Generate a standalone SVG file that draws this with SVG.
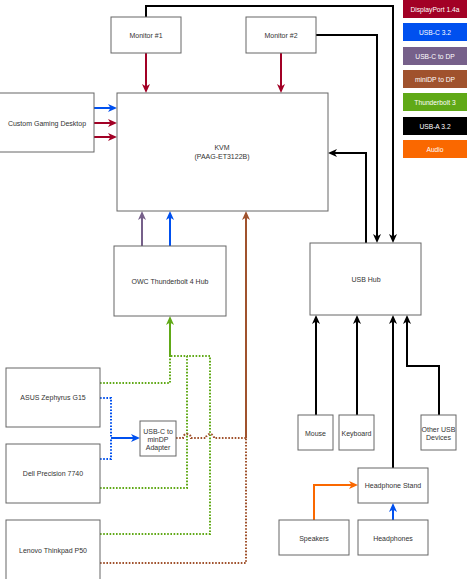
<svg xmlns="http://www.w3.org/2000/svg" width="474" height="579" viewBox="0 0 474 579">
<style>
.box{fill:#fff;stroke:#666;stroke-width:1}
.t{font-family:"Liberation Sans",Arial,sans-serif;font-size:7px;fill:#333;text-anchor:middle;dominant-baseline:central}
.lg{font-family:"Liberation Sans",Arial,sans-serif;font-size:6.7px;fill:#fff;text-anchor:middle;dominant-baseline:central}
.e{fill:none;stroke-width:2}
.d{stroke-dasharray:1.6 1.6}
</style>
<defs>
<marker id="aR" markerUnits="userSpaceOnUse" markerWidth="10" markerHeight="9" refX="6" refY="4.5" orient="auto"><path d="M0,0.5 L9,4.5 L0,8.5 L2.5,4.5 Z" fill="#A20025"/></marker>
<marker id="aB" markerUnits="userSpaceOnUse" markerWidth="10" markerHeight="9" refX="6" refY="4.5" orient="auto"><path d="M0,0.5 L9,4.5 L0,8.5 L2.5,4.5 Z" fill="#0050EF"/></marker>
<marker id="aP" markerUnits="userSpaceOnUse" markerWidth="10" markerHeight="9" refX="6" refY="4.5" orient="auto"><path d="M0,0.5 L9,4.5 L0,8.5 L2.5,4.5 Z" fill="#76608A"/></marker>
<marker id="aN" markerUnits="userSpaceOnUse" markerWidth="10" markerHeight="9" refX="6" refY="4.5" orient="auto"><path d="M0,0.5 L9,4.5 L0,8.5 L2.5,4.5 Z" fill="#A0522D"/></marker>
<marker id="aG" markerUnits="userSpaceOnUse" markerWidth="10" markerHeight="9" refX="6" refY="4.5" orient="auto"><path d="M0,0.5 L9,4.5 L0,8.5 L2.5,4.5 Z" fill="#60A917"/></marker>
<marker id="aK" markerUnits="userSpaceOnUse" markerWidth="10" markerHeight="9" refX="6" refY="4.5" orient="auto"><path d="M0,0.5 L9,4.5 L0,8.5 L2.5,4.5 Z" fill="#000"/></marker>
<marker id="aO" markerUnits="userSpaceOnUse" markerWidth="10" markerHeight="9" refX="6" refY="4.5" orient="auto"><path d="M0,0.5 L9,4.5 L0,8.5 L2.5,4.5 Z" fill="#FA6800"/></marker>
</defs>

<g id="legend">
<rect x="403" y="0" width="64" height="18" fill="#A20025"/><text class="lg" x="435" y="9">DisplayPort 1.4a</text>
<rect x="403" y="23" width="64" height="18" fill="#0050EF"/><text class="lg" x="435" y="32">USB-C 3.2</text>
<rect x="403" y="47" width="64" height="18" fill="#76608A"/><text class="lg" x="435" y="56">USB-C to DP</text>
<rect x="403" y="70" width="64" height="18" fill="#A0522D"/><text class="lg" x="435" y="79">miniDP to DP</text>
<rect x="403" y="93" width="64" height="18" fill="#60A917"/><text class="lg" x="435" y="102">Thunderbolt 3</text>
<rect x="403" y="117" width="64" height="18" fill="#000"/><text class="lg" x="435" y="126">USB-A 3.2</text>
<rect x="403" y="140" width="64" height="18" fill="#FA6800"/><text class="lg" x="435" y="149">Audio</text>
</g>

<g id="connectors">
<path class="e" stroke="#A20025" d="M146,53 V90" marker-end="url(#aR)"/>
<path class="e" stroke="#A20025" d="M281,53 V90" marker-end="url(#aR)"/>
<path class="e" stroke="#0050EF" d="M94,108 H114" marker-end="url(#aB)"/>
<path class="e" stroke="#A20025" d="M94,123 H114" marker-end="url(#aR)"/>
<path class="e" stroke="#A20025" d="M94,137 H114" marker-end="url(#aR)"/>
<path class="e" stroke="#000" d="M146,17 V6 H393 V240" marker-end="url(#aK)"/>
<path class="e" stroke="#000" d="M316,35 H377 V240" marker-end="url(#aK)"/>
<path class="e" stroke="#000" d="M366,243 V153 H331" marker-end="url(#aK)"/>
<path class="e" stroke="#76608A" d="M142,246 V214" marker-end="url(#aP)"/>
<path class="e" stroke="#0050EF" d="M170,246 V214" marker-end="url(#aB)"/>
<path class="e" stroke="#60A917" d="M170,356 V319" marker-end="url(#aG)"/>
<path class="e d" stroke="#60A917" d="M100,383 H170 V356"/>
<path class="e d" stroke="#60A917" d="M100,488 H187 V356 H170"/>
<path class="e d" stroke="#60A917" d="M100,534 H210 V356 H187"/>
<path class="e d" stroke="#0050EF" d="M100,398 H111 V438"/>
<path class="e d" stroke="#0050EF" d="M100,459 H111 V438"/>
<path class="e" stroke="#0050EF" d="M111,438 H137" marker-end="url(#aB)"/>
<path class="e d" stroke="#A0522D" d="M176,438 H183 a4,4 0 0 1 8,0 H206 a4,4 0 0 1 8,0 H246"/>
<path class="e d" stroke="#A0522D" d="M100,563 H246 V438"/>
<path class="e" stroke="#A0522D" d="M246,438 V214" marker-end="url(#aN)"/>
<path class="e" stroke="#000" d="M316,415 V318" marker-end="url(#aK)"/>
<path class="e" stroke="#000" d="M357,415 V318" marker-end="url(#aK)"/>
<path class="e" stroke="#000" d="M393,468 V318" marker-end="url(#aK)"/>
<path class="e" stroke="#000" d="M439,415 V366 H407 V318" marker-end="url(#aK)"/>
<path class="e" stroke="#FA6800" d="M314,520 V485 H355" marker-end="url(#aO)"/>
<path class="e" stroke="#0050EF" d="M393,520 V506" marker-end="url(#aB)"/>
</g>

<g id="monitor1"><rect class="box" x="111" y="17" width="70" height="36"/><text class="t" x="146" y="35">Monitor #1</text></g>
<g id="monitor2"><rect class="box" x="246" y="17" width="70" height="36"/><text class="t" x="281" y="35">Monitor #2</text></g>
<g id="kvm"><rect class="box" x="117" y="93" width="211" height="118"/><text class="t" x="222" y="147">KVM</text><text class="t" x="222" y="156">(PAAG-ET3122B)</text></g>
<g id="desktop"><rect class="box" x="-1" y="93" width="95" height="59"/><text class="t" x="47" y="123">Custom Gaming Desktop</text></g>
<g id="owc"><rect class="box" x="114" y="246" width="112" height="70"/><text class="t" x="170" y="281">OWC Thunderbolt 4 Hub</text></g>
<g id="usbhub"><rect class="box" x="310" y="243" width="111" height="72"/><text class="t" x="366" y="279">USB Hub</text></g>
<g id="asus"><rect class="box" x="6" y="368" width="94" height="59"/><text class="t" x="53" y="397">ASUS Zephyrus G15</text></g>
<g id="dell"><rect class="box" x="6" y="444" width="94" height="59"/><text class="t" x="53" y="473">Dell Precision 7740</text></g>
<g id="lenovo"><rect class="box" x="6" y="520" width="94" height="60"/><text class="t" x="53" y="550">Lenovo Thinkpad P50</text></g>
<g id="adapter"><rect class="box" x="140" y="421" width="36" height="35"/><text class="t" x="158" y="431">USB-C to</text><text class="t" x="158" y="439">minDP</text><text class="t" x="158" y="447">Adapter</text></g>
<g id="mouse"><rect class="box" x="298" y="415" width="35" height="35"/><text class="t" x="315.5" y="433">Mouse</text></g>
<g id="keyboard"><rect class="box" x="339" y="415" width="35" height="35"/><text class="t" x="356.5" y="433">Keyboard</text></g>
<g id="otherusb"><rect class="box" x="421" y="415" width="35" height="35"/><text class="t" x="438.5" y="429">Other USB</text><text class="t" x="438.5" y="437">Devices</text></g>
<g id="headphonestand"><rect class="box" x="358" y="468" width="70" height="35"/><text class="t" x="393" y="485">Headphone Stand</text></g>
<g id="speakers"><rect class="box" x="279" y="520" width="70" height="35"/><text class="t" x="314" y="538">Speakers</text></g>
<g id="headphones"><rect class="box" x="358" y="520" width="70" height="35"/><text class="t" x="393" y="538">Headphones</text></g>
</svg>
